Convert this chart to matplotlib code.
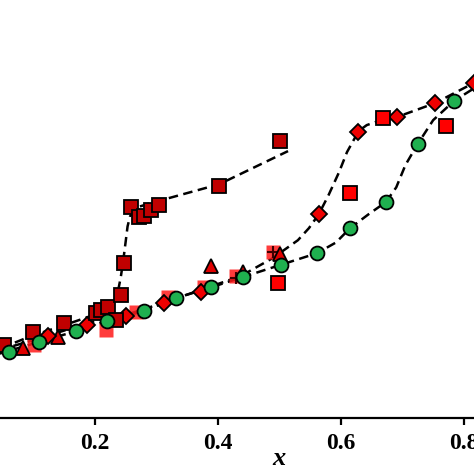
import matplotlib
matplotlib.use("Agg")
import matplotlib.pyplot as plt

plt.rcParams['font.family'] = ['Liberation Serif', 'DejaVu Serif']
plt.rcParams['font.weight'] = 'bold'

# upper branch, dark red squares + fitted dashed curve
sq_dark_x = [0.052, 0.099, 0.150, 0.202, 0.210, 0.221, 0.234, 0.242, 0.247,
             0.259, 0.272, 0.280, 0.291, 0.304, 0.402, 0.501]
sq_dark_y = [0.163, 0.192, 0.212, 0.234, 0.241, 0.248, 0.219, 0.275, 0.346,
             0.471, 0.449, 0.451, 0.464, 0.475, 0.518, 0.618]
fit1_x = [0.047, 0.096, 0.145, 0.202, 0.229, 0.237, 0.242, 0.246, 0.250,
          0.253, 0.257, 0.263, 0.272, 0.291, 0.402, 0.514]
fit1_y = [0.156, 0.183, 0.205, 0.232, 0.254, 0.280, 0.315, 0.352, 0.395,
          0.428, 0.450, 0.464, 0.472, 0.480, 0.522, 0.596]

# diamonds + fitted dashed curve
dia_x = [0.123, 0.187, 0.250, 0.312, 0.372, 0.564, 0.628, 0.691, 0.753, 0.816]
dia_y = [0.183, 0.208, 0.228, 0.257, 0.281, 0.455, 0.638, 0.672, 0.703, 0.748]
fit2_x = [0.040, 0.112, 0.193, 0.259, 0.315, 0.372, 0.437, 0.489, 0.530,
          0.548, 0.564, 0.580, 0.597, 0.610, 0.629, 0.642, 0.665, 0.691,
          0.753, 0.830]
fit2_y = [0.150, 0.179, 0.214, 0.234, 0.259, 0.286, 0.317, 0.357, 0.397,
          0.424, 0.455, 0.498, 0.549, 0.594, 0.641, 0.654, 0.665, 0.672,
          0.703, 0.758]

# green circles, joined by dashed line
circ_x = [0.060, 0.109, 0.169, 0.220, 0.280, 0.332, 0.389, 0.441, 0.502,
          0.561, 0.615, 0.673, 0.725, 0.784, 0.844]
circ_y = [0.147, 0.170, 0.194, 0.217, 0.239, 0.268, 0.292, 0.315, 0.342,
          0.368, 0.424, 0.482, 0.612, 0.708, 0.760]
fit3_x = [0.040, 0.109, 0.169, 0.220, 0.280, 0.332, 0.389, 0.441, 0.502,
          0.561, 0.592, 0.615, 0.645, 0.673, 0.690, 0.705, 0.725, 0.750,
          0.784, 0.844]
fit3_y = [0.142, 0.170, 0.194, 0.217, 0.239, 0.268, 0.292, 0.315, 0.342,
          0.368, 0.392, 0.424, 0.455, 0.482, 0.515, 0.565, 0.612, 0.665,
          0.708, 0.760]

# triangles
tri_x = [0.083, 0.140, 0.389, 0.441, 0.501]
tri_y = [0.156, 0.181, 0.339, 0.326, 0.366]

# bright red squares
sq_red_x = [0.498, 0.615, 0.668, 0.771]
sq_red_y = [0.301, 0.502, 0.670, 0.652]

# faded squares without edge
sq_pale_x = [0.101, 0.218, 0.267, 0.319, 0.377, 0.429, 0.489]
sq_pale_y = [0.163, 0.196, 0.237, 0.270, 0.292, 0.317, 0.371]

# plus signs
plus_x = [0.372, 0.429, 0.489]
plus_y = [0.281, 0.313, 0.371]

fig = plt.figure(figsize=(4.74, 4.74), dpi=100)
ax = fig.add_axes([-0.059, 0.118, 1.297, 0.945])

dash = dict(color='black', lw=1.8, ls=(0, (3.8, 2.2)))
ax.plot(fit1_x, fit1_y, **dash, zorder=2)
ax.plot(fit2_x, fit2_y, **dash, zorder=2)
ax.plot(fit3_x, fit3_y, **dash, zorder=2)

ax.plot(sq_pale_x, sq_pale_y, 's', ms=10, mfc='#ff1a1a', mec='none',
        alpha=0.85, zorder=3)
ax.plot(plus_x, plus_y, '+', ms=9, mew=1.5, color='#400000', zorder=4)
ax.plot(tri_x, tri_y, '^', ms=10, mfc='#e00000', mec='black', mew=1.3, zorder=4)
ax.plot(dia_x, dia_y, 'D', ms=8, mfc='#ee0000', mec='black', mew=1.3, zorder=4)
ax.plot(sq_red_x, sq_red_y, 's', ms=10, mfc='#ff0000', mec='black', mew=1.3, zorder=4)
ax.plot(sq_dark_x, sq_dark_y, 's', ms=10, mfc='#c00000', mec='black', mew=1.3, zorder=5)
ax.plot(circ_x, circ_y, 'o', ms=10, mfc='#1fb04f', mec='black', mew=1.3, zorder=6)

ax.set_xlim(0, 1)
ax.set_ylim(0, 1)
ax.set_xticks([0.2, 0.4, 0.6, 0.8])
ax.set_xticklabels(['0.2', '0.4', '0.6', '0.8'])
ax.set_yticks([])
for s in ax.spines.values():
    s.set_linewidth(1.6)
ax.tick_params(axis='x', direction='out', length=5, width=1.6, labelsize=17, pad=6)
for t in ax.get_xticklabels():
    t.set_fontweight('bold')
ax.set_xlabel('x', fontsize=19, fontstyle='italic', fontweight='bold', labelpad=-5)

fig.savefig('out.png', dpi=100)
